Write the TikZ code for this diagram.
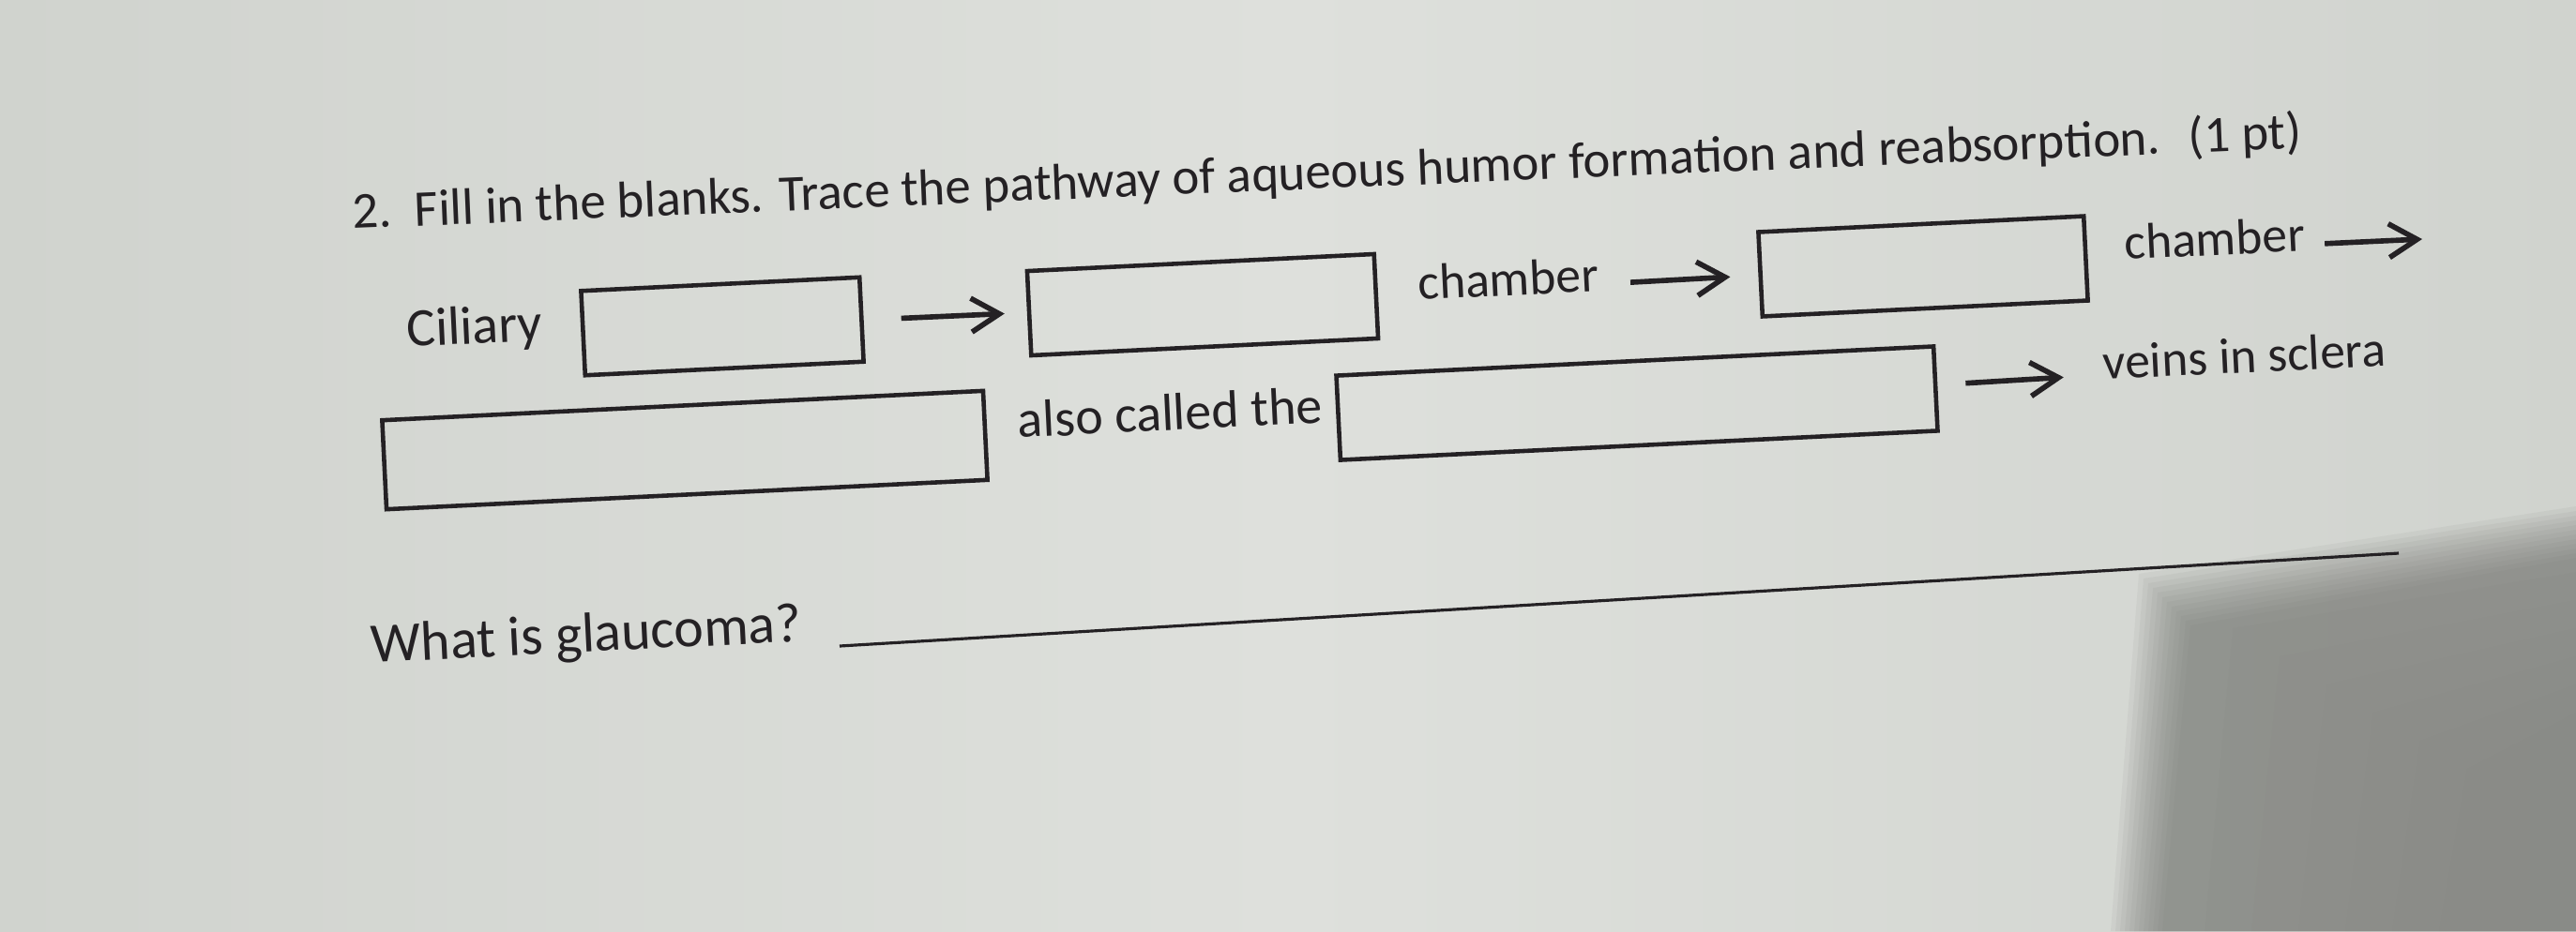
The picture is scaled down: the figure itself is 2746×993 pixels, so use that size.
\documentclass[tikz,border=0pt]{standalone}
\usepackage{fontspec}
\setmainfont{Carlito}
\usetikzlibrary{arrows.meta}

\definecolor{paper}{RGB}{208,211,206}
\definecolor{paperlight}{RGB}{222,224,220}
\definecolor{shadowc}{RGB}{112,113,109}
\definecolor{ink}{RGB}{36,33,36}

\tikzset{
  blank/.style={draw=ink, line width=1.3pt, rotate=2.8, minimum height=0.9cm, inner sep=0pt},
  lbl/.style={text=ink, inner sep=0pt, anchor=base west, font=\fontsize{#1}{#1}\selectfont, text height=0.4em, text depth=0pt},
  lbl/.default=15.2pt,
  flow/.style={draw=ink, line width=1.6pt, -{Straight Barb[length=0.3cm,width=0.36cm]}}
}

\begin{document}
\begin{tikzpicture}[x=0.01cm,y=-0.01cm]
\useasboundingbox (0,0) rectangle (2746,993);
\shade[left color=paper, right color=paper, middle color=paperlight] (0,0) rectangle (2746,993);

% shadow lower right, soft edge
\foreach \k in {0,...,11}
  \fill[shadowc, opacity=0.08] (2250+5*\k,993) -- (2280+5*\k,612+5*\k) -- (2746,540+5*\k) -- (2746,993) -- cycle;
\foreach \k in {1,...,6}
  \fill[shadowc, opacity=0.03] (2300+50*\k,993) -- (2330+50*\k,640+30*\k) -- (2746,580+30*\k) -- (2746,993) -- cycle;

\node[lbl=15.6pt, rotate=2.37] (q) at (376,244) {2.\hspace{0.45em}Fill in the blanks. Trace the pathway of aqueous humor formation and reabsorption.\hspace{0.55em}(1 pt)};

% first row
\node[lbl=16.4pt, rotate=2.7] (cil) at (434,370) {Ciliary};
\node[blank, minimum width=2.97cm] (b1) at (770,348) {};
\node[blank, minimum width=3.7cm] (b2) at (1282,325) {};
\node[lbl, rotate=2.8] (ch1) at (1512,320) {chamber};
\node[blank, minimum width=3.47cm] (b3) at (2050,284) {};
\node[lbl, rotate=2.8] (ch2) at (2265,277) {chamber};
\coordinate (e3) at (2582,255);

% second row
\node[blank, minimum width=6.41cm, minimum height=0.95cm] (b4) at (730,480) {};
\node[lbl=15.9pt, rotate=2.8] (acl) at (1085,467) {also called the};
\node[blank, minimum width=6.37cm] (b5) at (1745,430) {};
\node[lbl, rotate=2.8] (vs) at (2242,405) {veins in sclera};

\draw[flow, shorten <=0.4cm, shorten >=0.24cm] (b1) -- (b2);
\draw[flow, shorten <=0.33cm, shorten >=0.3cm] (ch1) -- (b3);
\draw[flow, shorten <=0.2cm] (ch2) -- (e3);
\draw[flow, shorten <=0.3cm, shorten >=0.42cm] (b5) -- (vs);

% glaucoma line
\node[lbl=17pt, rotate=2.9] (gl) at (396,707) {What is glaucoma?};
\draw[ink, line width=0.9pt] (895,689) -- (2557,590);
\end{tikzpicture}
\end{document}
